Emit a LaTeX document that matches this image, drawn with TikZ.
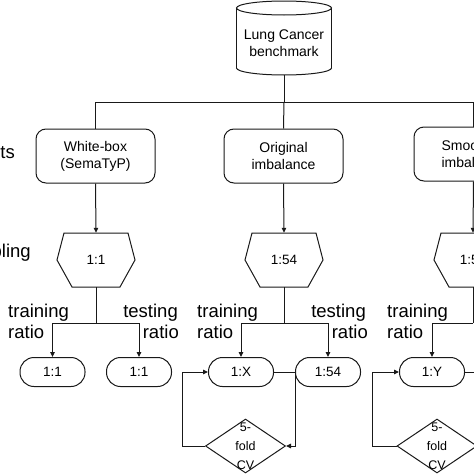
\documentclass[tikz,border=0pt]{standalone}
\usepackage{fontspec}
\setmainfont{Liberation Sans}
\usetikzlibrary{arrows.meta,calc,shapes.geometric}
\begin{document}
\begin{tikzpicture}[x=1pt,y=-1pt,
 ln/.style={line width=1pt, draw=black!90},
 arr/.style={ln,-{Triangle[length=5pt,width=4.5pt]}},
 catbox/.style={ln, rectangle, rounded corners=10pt, minimum width=119pt, minimum height=54pt, inner sep=0pt, align=center, font=\fontsize{14}{17}\selectfont},
 hexbase/.style={rectangle, minimum width=79pt, minimum height=54pt, inner sep=0pt, font=\fontsize{13.5}{16}\selectfont},
 pill/.style={ln, rectangle, rounded corners=14pt, minimum width=65pt, minimum height=29pt, inner sep=0pt, font=\fontsize{13.5}{16}\selectfont},
 cv/.style={ln, diamond, minimum width=80pt, minimum height=54pt, inner sep=0pt},
 cvtext/.style={inner sep=0pt, align=center, font=\fontsize{12.5}{19}\selectfont},
 lbl/.style={inner sep=0pt, font=\fontsize{18.5}{21}\selectfont},
]
\clip (0,0) rectangle (474,474);

% cylinder
\draw[ln] (236.5,8) -- (236.5,68);
\draw[ln] (331.5,8) -- (331.5,68);
\draw[ln] (284,8) ellipse [x radius=47.5pt, y radius=7pt];
\begin{scope}
 \clip (230,68) rectangle (340,80);
 \draw[ln] (284,68) ellipse [x radius=47.5pt, y radius=7pt];
\end{scope}
\node[inner sep=0pt, minimum width=95pt, minimum height=63pt, align=center, font=\fontsize{14}{17}\selectfont] (db) at (284,43.5) {Lung Cancer\\benchmark};

% side labels
\node[lbl, anchor=base east] (lset) at (15,158) {Datasets};
\node[lbl, anchor=base east] (lsamp) at (31,257) {Sampling};

% category boxes
\node[catbox] (b1) at (95.5,156) {White-box\\(SemaTyP)};
\node[catbox] (b2) at (283.5,156) {Original\\imbalance};
\node[catbox] (b3) at (473.5,154) {Smoothed\\imbalance};

\coordinate (top) at (284,102);
\draw[ln] (db.south) -- (top);
\draw[ln] (b1.north) -- (b1.north |- top) -- (b3.north |- top) -- (b3.north);
\draw[ln] (b2.north) -- (top);

% hexagons
\node[hexbase] (h1) at (96,260) {1:1};
\node[hexbase] (h2) at (284,260) {1:54};
\node[hexbase] (h3) at (473,260) {1:54};
\foreach \h in {h1,h2,h3}{
 \draw[ln] ($(\h)+(-39,0)$) -- ($(\h)+(-32,-27)$) -- ($(\h)+(32,-27)$) -- ($(\h)+(39,0)$) -- ($(\h)+(24,27)$) -- ($(\h)+(-24,27)$) -- cycle;
}
\draw[arr] (b1.south) -- (h1.north);
\draw[arr] (b2.south) -- (h2.north);
\draw[arr] (b3.south) -- (h3.north);

% ratio boxes
\node[pill] (p1) at (52.5,372) {1:1};
\node[pill] (p2) at (139,372) {1:1};
\node[pill] (p3) at (241,372) {1:X};
\node[pill] (p4) at (328,372) {1:54};
\node[pill] (p5) at (432,372) {1:Y};

\coordinate (j1) at (96,323);
\coordinate (j2) at (284,323);
\coordinate (j3) at (473,323);
\draw[ln] (h1.south) -- (j1);
\draw[ln] (h2.south) -- (j2);
\draw[ln] (h3.south) -- (j3);
\draw[arr] (j1) -| (p1.north);
\draw[arr] (j1) -| (p2.north);
\draw[arr] (j2) -| (p3.north);
\draw[arr] (j2) -| (p4.north);
\draw[arr] (j3) -| (p5.north);

% training / testing labels
\node[lbl, anchor=base west] (tr1a) at (8,317) {training};
\node[lbl, anchor=base west] (tr1b) at (8,338) {ratio};
\node[lbl, anchor=base east] (te1a) at (178,317) {testing};
\node[lbl, anchor=base east] (te1b) at (179,338) {ratio};
\node[lbl, anchor=base west] (tr2a) at (197,317) {training};
\node[lbl, anchor=base west] (tr2b) at (197,338) {ratio};
\node[lbl, anchor=base east] (te2a) at (366,317) {testing};
\node[lbl, anchor=base east] (te2b) at (368,338) {ratio};
\node[lbl, anchor=base west] (tr3a) at (387,317) {training};
\node[lbl, anchor=base west] (tr3b) at (387,338) {ratio};

% cross validation
\node[cv, label={[cvtext]center:{5-\\fold\\CV}}] (d1) at (245.5,446) {};
\node[cv, label={[cvtext]center:{5-\\fold\\CV}}] (d2) at (437,446) {};
\draw[arr] (d1.west) -- ++(-23,0) |- (p3.west);
\draw[arr] (p3.east) -- ++(21,0) |- (d1.east);
\draw[arr] (d2.west) -- ++(-24,0) |- (p5.west);
\draw[ln] (p5.east) -- ++(20,0);
\end{tikzpicture}
\end{document}
